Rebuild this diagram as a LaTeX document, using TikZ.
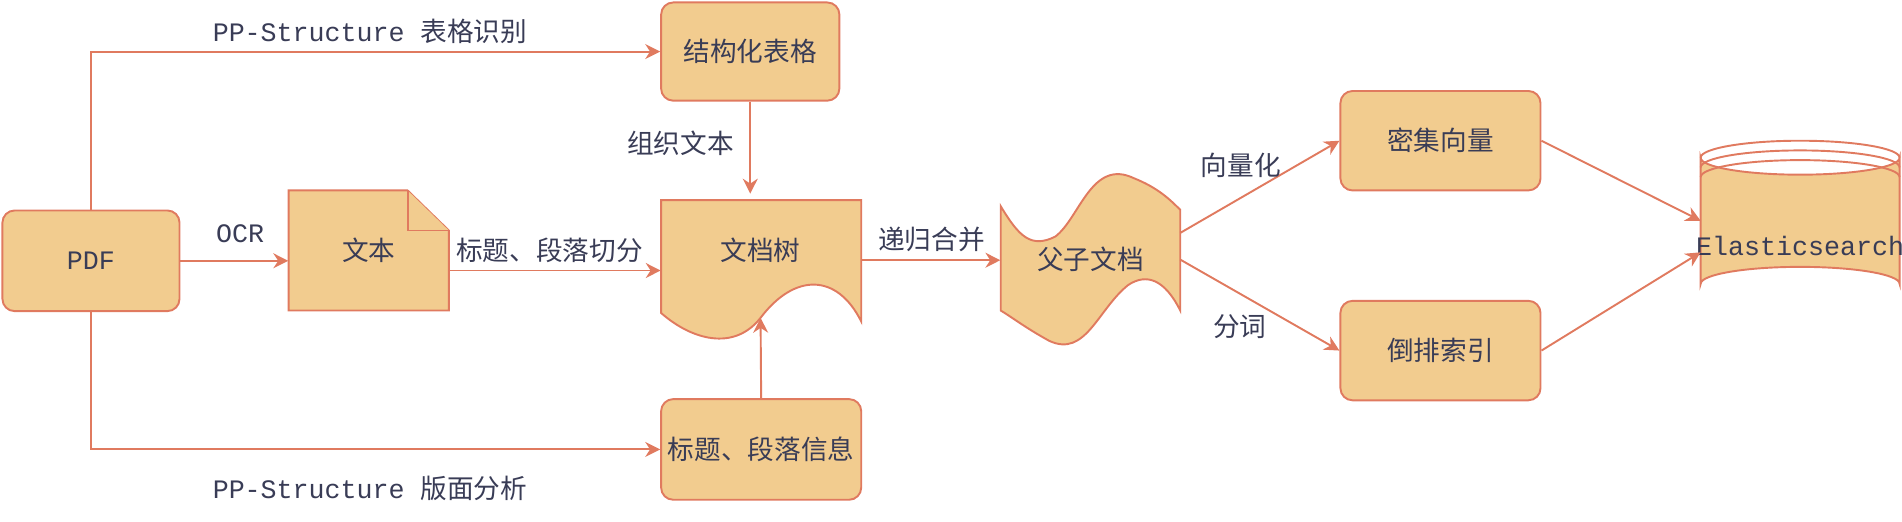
\documentclass[tikz,border=0pt]{standalone}
\usepackage{fontspec}
\setmainfont{Noto Sans CJK SC}
\newfontfamily\latf{Liberation Mono}
\usetikzlibrary{arrows.meta}
\definecolor{fillc}{HTML}{F2CC8F}
\definecolor{linec}{HTML}{E07A5F}
\definecolor{txtc}{HTML}{393C56}
\begin{document}
\begin{tikzpicture}[x=0.02cm,y=-0.02cm,
  box/.style={draw=linec,fill=fillc,line width=0.9pt,rounded corners=0.2cm,inner sep=0pt},
  shp/.style={draw=linec,fill=fillc,line width=0.9pt},
  ghost/.style={inner sep=0pt},
  lbl/.style={text=txtc,font=\fontsize{12.5}{14}\selectfont,inner sep=0pt},
  arr/.style={draw=linec,line width=0.9pt,-{Stealth[length=7pt,width=7pt]}}]
\useasboundingbox (0,0) rectangle (1568,430);
% boxes
\node[box,minimum width=2.92cm,minimum height=1.66cm,lbl] (pdf) at (75,215) {\latf PDF};
\node[box,minimum width=2.94cm,minimum height=1.62cm,lbl] (tbl) at (618.5,42.5) {结构化表格};
\node[box,minimum width=3.3cm,minimum height=1.66cm,lbl] (info) at (627.5,370.5) {标题、段落信息};
\node[box,minimum width=3.3cm,minimum height=1.64cm,lbl] (dense) at (1187.5,116) {密集向量};
\node[box,minimum width=3.3cm,minimum height=1.64cm,lbl] (inv) at (1187.5,289) {倒排索引};
% 文本 document with folded corner
\draw[shp] (238,157) -- (336,157) -- (370,190) -- (370,256) -- (238,256) -- cycle;
\draw[shp] (336,157) -- (336,190) -- (370,190);
\node[ghost,minimum width=2.64cm,minimum height=1.98cm] (wen) at (304,206.5) {};
\node[lbl] (wenT) at (304,206) {文本};
% 文档树 document
\draw[shp] (545,165) -- (710,165) -- (710,265) .. controls (690,225) and (655,225) .. (627,262) .. controls (605,290) and (570,280) .. (545,258) -- cycle;
\node[ghost,minimum width=3.3cm,minimum height=2.28cm] (tree) at (627.5,222) {};
\node[lbl] (treeT) at (627,206) {文档树};
\coordinate (treeB) at (627,262);
% 父子文档 tape
\draw[shp] (825,170) .. controls (840,195) and (850,205) .. (870,195) .. controls (890,180) and (900,130) .. (935,147) .. controls (955,155) and (965,165) .. (973,173) -- (973,256) .. controls (960,230) and (945,225) .. (930,235) .. controls (905,255) and (895,295) .. (865,281) .. controls (845,270) and (835,262) .. (825,256) -- cycle;
\node[ghost,minimum width=2.96cm,minimum height=2.2cm] (fz) at (899,214.5) {};
\node[lbl] (fzT) at (899,214) {父子文档};
% Elasticsearch cylinder
\draw[shp] (1402,130) -- (1402,234) arc[start angle=180,end angle=360,x radius=82,y radius=14] -- (1566,130) arc[start angle=0,end angle=180,x radius=82,y radius=14] -- cycle;
\draw[shp,fill=none] (1402,130) arc[start angle=180,end angle=360,x radius=82,y radius=14];
\draw[shp,fill=none] (1402,138) arc[start angle=180,end angle=360,x radius=82,y radius=14];
\draw[shp,fill=none] (1402,146) arc[start angle=180,end angle=360,x radius=82,y radius=14];
\node[ghost,minimum width=3.28cm,minimum height=2.64cm] (es) at (1484,182) {};
\node[lbl] (esT) at (1484,203) {\latf Elasticsearch};
% connectors
\draw[arr] (pdf.north) |- (tbl.west);
\draw[arr] (pdf.south) |- (info.west);
\draw[arr] (pdf.east) -- (pdf.east -| wen.west);
\coordinate (w1) at (370,223);
\draw[arr] (w1) -- (w1 -| tree.west);
\coordinate (t1) at (710,214.5);
\draw[arr] (t1) -- (t1 -| fz.west);
\draw[arr] (tbl.south) -- ([yshift=0.1cm]tree.north -| tbl.south);
\draw[arr] (info.north) -- (treeB);
\coordinate (f1) at (973,192);
\coordinate (f2) at (973,214);
\draw[arr] (f1) -- (dense.west);
\draw[arr] (f2) -- (inv.west);
\coordinate (e1) at (1402,182);
\coordinate (e2) at (1402,208);
\draw[arr] (dense.east) -- (e1);
\draw[arr] (inv.east) -- (e2);
% labels
\node[lbl] (l1) at (305,26) {\latf PP-Structure \rmfamily 表格识别};
\node[lbl] (l2) at (305,403) {\latf PP-Structure \rmfamily 版面分析};
\node[lbl] (l3) at (198,193) {\latf OCR};
\node[lbl] (l4) at (453,206) {标题、段落切分};
\node[lbl] (l5) at (561,118) {组织文本};
\node[lbl] (l6) at (768,197) {递归合并};
\node[lbl] (l7) at (1023,136) {向量化};
\node[lbl] (l8) at (1022,269) {分词};
\end{tikzpicture}
\end{document}
